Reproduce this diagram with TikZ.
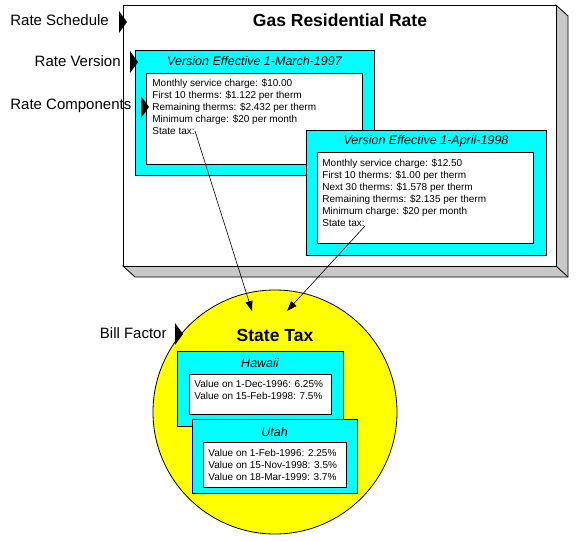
\documentclass[tikz,border=0pt]{standalone}
\usepackage{fontspec}
\setmainfont{Liberation Sans}
\usetikzlibrary{arrows.meta}
\definecolor{cy}{RGB}{0,255,255}
\definecolor{yl}{RGB}{255,255,0}
\definecolor{sh}{RGB}{200,200,200}
\begin{document}
\begin{tikzpicture}[x=1pt,y=-1pt,line width=0.8pt,
  rect/.style={draw=black, anchor=north west, inner sep=0pt, outer sep=0pt},
  cybox/.style={rect, fill=cy},
  whbox/.style={rect, fill=white},
  body/.style={font=\fontsize{10}{12}\selectfont, align=left, inner sep=0pt, anchor=north west},
  vtitle/.style={font=\fontsize{12.5}{14}\selectfont\itshape, inner sep=0pt},
  btitle/.style={font=\fontsize{17.5}{20}\selectfont\bfseries, inner sep=0pt},
  lbl/.style={font=\fontsize{15}{18}\selectfont, inner sep=0pt},
  marker/.style={fill=black},
  conn/.style={line width=0.6pt, -{Triangle[length=10pt,width=7pt]}}]
\useasboundingbox (0,0) rectangle (580,540);

% Rate schedule box with shadow
\filldraw[fill=sh, draw=black] (123,266) -- (135,277) -- (568,277) -- (568,16) -- (556,5) -- (556,266) -- cycle;
\draw (556,266) -- (568,277);
\node[whbox, minimum width=433pt, minimum height=261pt] (sched) at (123,5) {};
\node[btitle] (schedt) at (340,20) {Gas Residential Rate};

% Version 1
\node[cybox, minimum width=239pt, minimum height=125pt] (v1) at (135,50) {};
\node[whbox, minimum width=216pt, minimum height=91pt] (v1in) at (146,73) {};
\node[vtitle] (v1t) at (254.5,61) {Version Effective 1-March-1997};
\node[body] (v1txt) at (152,79) {Monthly service charge: \$10.00\\First 10 therms: \$1.122 per therm\\Remaining therms: \$2.432 per therm\\Minimum charge: \$20 per month\\State tax:};

% Version 2
\node[cybox, minimum width=240pt, minimum height=125pt] (v2) at (306,130) {};
\node[whbox, minimum width=216pt, minimum height=91pt] (v2in) at (317,152) {};
\node[vtitle] (v2t) at (426,141) {Version Effective 1-April-1998};
\node[body] (v2txt) at (322,159) {Monthly service charge: \$12.50\\First 10 therms: \$1.00 per therm\\Next 30 therms: \$1.578 per therm\\Remaining therms: \$2.135 per therm\\Minimum charge: \$20 per month\\State tax:};

% Bill factor circle
\node[circle, draw=black, fill=yl, minimum size=244pt, inner sep=0pt] (bf) at (275,412) {};
\node[btitle] (bft) at (275,335) {State Tax};

% Hawaii
\node[cybox, minimum width=166pt, minimum height=75pt] (hi) at (177,351) {};
\node[whbox, minimum width=142pt, minimum height=40pt] (hiin) at (189,374) {};
\node[vtitle] (hit) at (260,363) {Hawaii};
\node[body] (hitxt) at (194,380) {Value on 1-Dec-1996: 6.25\%\\Value on 15-Feb-1998: 7.5\%};

% Utah
\node[cybox, minimum width=165pt, minimum height=74pt] (ut) at (192,419) {};
\node[whbox, minimum width=143pt, minimum height=45pt] (utin) at (203,442) {};
\node[vtitle] (utt) at (274.5,432) {Utah};
\node[body] (uttxt) at (208,449) {Value on 1-Feb-1996: 2.25\%\\Value on 15-Nov-1998: 3.5\%\\Value on 18-Mar-1999: 3.7\%};

% Labels and markers
\node[lbl, anchor=west] (l1) at (10,20) {Rate Schedule};
\node[lbl, anchor=east] (l2) at (121,61) {Rate Version};
\node[lbl, anchor=west] (l3) at (10,106) {Rate Components};
\node[lbl, anchor=east] (l4) at (167,333) {Bill Factor};
\fill[marker] (119,11) -- (127,22) -- (119,33) -- cycle;
\fill[marker] (130,51) -- (138,62) -- (130,73) -- cycle;
\fill[marker] (141,96) -- (149,107) -- (141,118) -- cycle;
\fill[marker] (175,323) -- (183,334) -- (175,345) -- cycle;

% Connectors
\coordinate (s1) at (195,131);
\coordinate (s2) at (365,226);
\coordinate (e1) at (252,311);
\coordinate (e2) at (287,311);
\draw[conn] (s1) -- (e1);
\draw[conn] (s2) -- (e2);
\end{tikzpicture}
\end{document}
